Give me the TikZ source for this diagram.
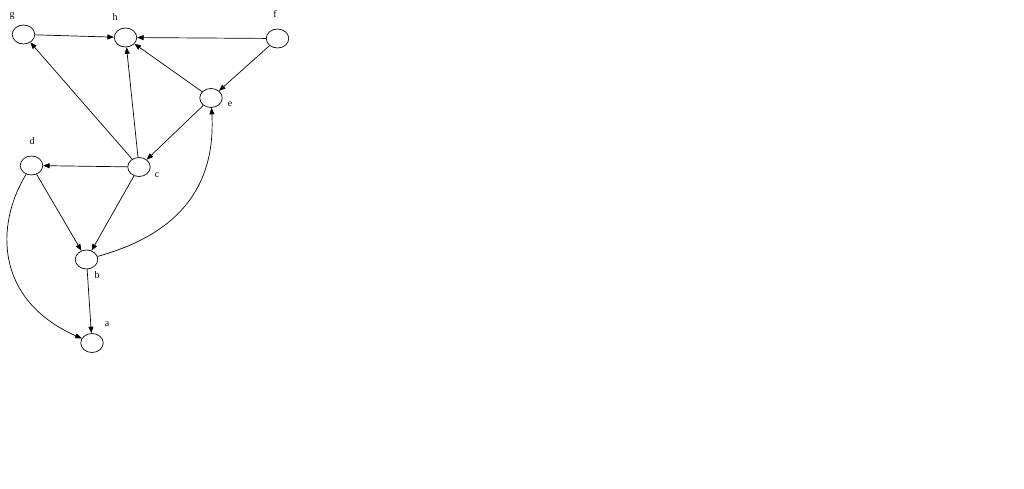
\documentclass[tikz,border=0pt]{standalone}
\usepackage{fontspec}
\setmainfont{Liberation Serif}
\usetikzlibrary{shapes.geometric,arrows.meta}
\begin{document}
\begin{tikzpicture}[x=1pt,y=-1pt,
  vertex/.style={draw,ellipse,minimum width=22.5pt,minimum height=19pt,inner sep=0pt,line width=0.7pt},
  lbl/.style={inner sep=0pt,font=\fontsize{10}{12}\selectfont},
  edge/.style={line width=0.7pt,-{Triangle[length=6.5pt,width=5pt]}}]
\useasboundingbox[fill=white] (0,0) rectangle (1024,489);
\node[vertex] (g) at (23.5,34.5) {};
\node[vertex] (h) at (125.5,37.5) {};
\node[vertex] (f) at (277.5,38.5) {};
\node[vertex] (e) at (211,98) {};
\node[vertex] (c) at (139,167) {};
\node[vertex] (d) at (31.5,165.5) {};
\node[vertex] (b) at (86.5,259.5) {};
\node[vertex] (a) at (92,343) {};
\node[lbl] (lg) at (12,16) {g};
\node[lbl] (lh) at (115,17) {h};
\node[lbl] (lf) at (275,14) {f};
\node[lbl] (le) at (230,104) {e};
\node[lbl] (ld) at (32,141) {d};
\node[lbl] (lc) at (157,175) {c};
\node[lbl] (lb) at (97,275) {b};
\node[lbl] (la) at (107,324) {a};
\draw[edge] (g) -- (h);
\draw[edge] (f) -- (h);
\draw[edge] (f) -- (e);
\draw[edge] (e) -- (h);
\draw[edge] (c) -- (g);
\draw[edge] (c) -- (h);
\draw[edge] (e) -- (c);
\draw[edge] (c) -- (d);
\draw[edge] (d) -- (b);
\draw[edge] (c) -- (b);
\draw[edge] (b) -- (a);
\draw[edge] (b) .. controls (175,235) and (216,190) .. (e);
\draw[edge] (d) .. controls (-5,225) and (-5,300) .. (a);
\end{tikzpicture}
\end{document}
